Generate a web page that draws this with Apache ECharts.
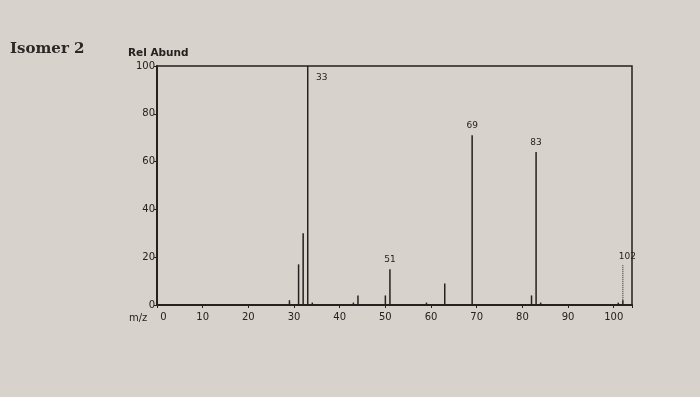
<!DOCTYPE html>
<html lang="en">
<head>
    <meta charset="UTF-8"/>
    <script src="https://cdn.jsdelivr.net/npm/echarts@6/dist/echarts.min.js"></script>
    <title>Isomer 2</title>
    <style>
        body { margin: 0; background: #d7d2cc; }
    </style>
</head>
<body>
<div id="main" style="width: 700px;height:397px;"></div>
<script type="text/javascript">
    // m/z values and relative abundance
    var mzValues = [29, 31, 32, 33, 34, 43, 44, 50, 51, 59, 63, 69, 82, 83, 84, 101, 102];
    var abundance = [2, 17, 30, 100, 1, 1, 4, 4, 15, 1, 9, 71, 4, 64, 1, 1, 2];
    var labelledPeaks = [33, 51, 69, 83];
    // dotted leader for the 102 label
    var leaderX = [102, 102];
    var leaderY = [2, 17];
    var xTicks = [0, 10, 20, 30, 40, 50, 60, 70, 80, 90, 100];

    var ink = '#24211f';
    var peaks = [];
    for (var i = 0; i < mzValues.length; i++) {
        var show = labelledPeaks.indexOf(mzValues[i]) >= 0;
        peaks.push({
            value: [mzValues[i], abundance[i]],
            label: {
                show: show,
                position: mzValues[i] === 33 ? 'insideTopLeft' : 'top',
                offset: mzValues[i] === 33 ? [4, 2] : [0, 0],
                formatter: String(mzValues[i])
            }
        });
    }
    var leader = [];
    for (var j = 0; j < leaderX.length; j++) {
        leader.push([leaderX[j], leaderY[j]]);
    }

    var myChart = echarts.init(document.getElementById('main'));
    var option = {
        backgroundColor: '#d7d2cc',
        animation: false,
        textStyle: {fontFamily: 'DejaVu Sans'},
        graphic: [
            {type: 'text', left: 10, top: 42, style: {text: 'Isomer 2', fontFamily: 'DejaVu Serif', fontWeight: 'bold', fontSize: 15, fill: '#2b2826'}},
            {type: 'text', left: 128, top: 48, style: {text: 'Rel Abund', fontFamily: 'DejaVu Sans', fontWeight: 'bold', fontSize: 10.5, fill: ink}},
            {type: 'text', left: 129, top: 313, style: {text: 'm/z', fontFamily: 'DejaVu Sans', fontSize: 10, fill: ink}}
        ],
        grid: {
            left: 157, right: 68, top: 66, bottom: 92,
            show: true, borderColor: ink, borderWidth: 1.5,
            backgroundColor: 'transparent'
        },
        xAxis: {
            type: 'value', min: 0, max: 104, interval: 10,
            axisLine: {lineStyle: {color: ink, width: 2}},
            axisTick: {lineStyle: {color: ink}, length: 3},
            axisLabel: {
                color: ink, fontSize: 10, margin: 7,
                customValues: xTicks,
                formatter: function (v) { return v === 0 ? '    0' : String(v); }
            },
            splitLine: {show: false}
        },
        yAxis: {
            type: 'value', min: 0, max: 100, interval: 20,
            axisLine: {show: true, lineStyle: {color: ink, width: 2}},
            axisTick: {show: true, lineStyle: {color: ink}, length: 3},
            axisLabel: {color: ink, fontSize: 10, margin: 2},
            splitLine: {show: false}
        },
        series: [
            {
                type: 'bar',
                barWidth: 1.5,
                itemStyle: {color: ink},
                label: {color: ink, fontSize: 9, fontFamily: 'DejaVu Sans'},
                data: peaks
            },
            {
                type: 'line',
                symbol: 'none',
                lineStyle: {color: ink, width: 1, type: 'dotted'},
                data: leader,
                endLabel: {show: true, formatter: '102', color: ink, fontSize: 9, offset: [-12, -8]}
            }
        ]
    };
    myChart.setOption(option);
</script>
</body>
</html>
